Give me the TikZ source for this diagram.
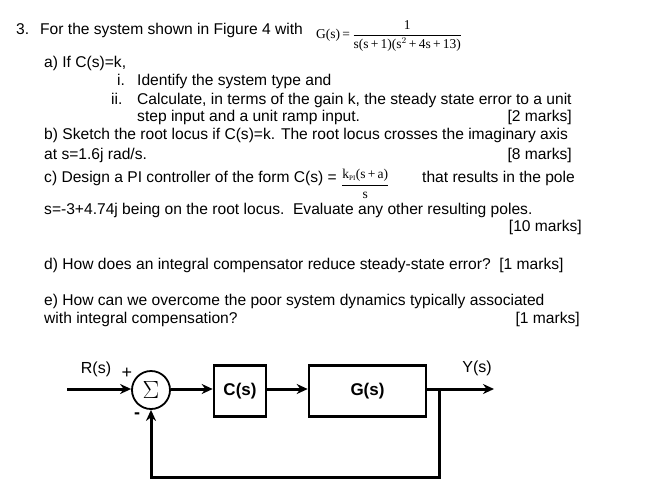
\documentclass[tikz,border=0pt]{standalone}
\usepackage{fontspec}
\setmainfont{Liberation Sans}
\newfontfamily\tms{Liberation Serif}
\usetikzlibrary{arrows.meta}
\begin{document}
\begin{tikzpicture}[x=1pt,y=-1pt,
  txt/.style={anchor=base west,inner sep=0pt,font=\fontsize{15.6}{17}\selectfont},
  rtxt/.style={anchor=base east,inner sep=0pt,font=\fontsize{15.6}{17}\selectfont},
  blk/.style={draw,line width=2.6pt,inner sep=0pt,font=\bfseries\fontsize{17}{18}\selectfont},
  wire/.style={line width=3pt},
  arr/.style={wire,-{Stealth[length=11pt,width=10pt]}},
  lab/.style={inner sep=0pt,font=\fontsize{16}{17}\selectfont}]
\useasboundingbox (0,0) rectangle (661,488);
\node[txt] (n3) at (16,34) {3.};
\node[txt] (l0) at (40,34) {For the system shown in Figure 4 with};
\node[anchor=west,inner sep=0pt,font=\tms\fontsize{13.5}{14}\selectfont] (gs) at (316,36) {G(s)\,=\,$\displaystyle\frac{\hbox{\tms 1}}{\hbox{\tms s(s\,+\,1)(s$^{2}$\,+\,4s\,+\,13)}}$};
\node[txt] (la) at (44,67) {a) If C(s)=k,};
\node[txt] at (117,85) {i.};
\node[txt] at (137,85) {Identify the system type and};
\node[txt] at (111,104) {ii.};
\node[txt] at (137,104) {Calculate, in terms of the gain k, the steady state error to a unit};
\node[txt] at (137,121) {step input and a unit ramp input.};
\node[rtxt] at (572,121) {[2 marks]};
\node[txt] at (44,139) {b) Sketch the root locus if C(s)=k. The root locus crosses the imaginary axis};
\node[txt] at (44,159) {at s=1.6j rad/s.};
\node[rtxt] at (572,159) {[8 marks]};
\node[txt] (lc) at (44,182) {c) Design a PI controller of the form C(s) =};
\node[anchor=west,inner sep=0pt,font=\tms\fontsize{13.5}{14}\selectfont] (pi) at (341,184) {$\displaystyle\frac{\hbox{\tms k$_{\hbox{\tms\fontsize{7}{7}\selectfont PI}}$(s\,+\,a)}}{\hbox{\tms s}}$};
\node[txt] at (422,182) {that results in the pole};
\node[txt] at (44,214) {s=-3+4.74j being on the root locus.\ \ Evaluate any other resulting poles.};
\node[rtxt] at (582,231) {[10 marks]};
\node[txt] at (44,269) {d) How does an integral compensator reduce steady-state error?\ \ [1 marks]};
\node[txt] at (44,305) {e) How can we overcome the poor system dynamics typically associated};
\node[txt] at (44,323) {with integral compensation?};
\node[rtxt] at (580,323) {[1 marks]};
% diagram
\node[draw,circle,line width=1.8pt,minimum size=38pt,inner sep=0pt,font=\tms\fontsize{24}{24}\selectfont] (sum) at (151,390) {$\Sigma$};
\node[blk,minimum width=52pt,minimum height=51pt] (C) at (240,391) {C(s)};
\node[blk,minimum width=117pt,minimum height=51pt] (G) at (367.5,391) {G(s)};
\coordinate (in) at (67,389);
\coordinate (br) at (439,389);
\coordinate (out) at (494,389);
\coordinate (fb1) at (439,477);
\coordinate (fb2) at (151,477);
\draw[arr] (in) -- (sum.west |- in);
\draw[arr] (sum.east |- in) -- (C.west |- in);
\draw[arr] (C.east |- in) -- (G.west |- in);
\draw[arr] (G.east |- in) -- (out);
\draw[arr] (br) -- (fb1) -- (fb2) -- (sum.south);
\node[lab] (R) at (96,369) {R(s)};
\node[lab,font=\fontsize{18}{18}\selectfont] at (127,373) {+};
\node[lab,font=\bfseries\fontsize{18}{18}\selectfont] at (137,416) {-};
\node[lab] (Y) at (477,368) {Y(s)};
\end{tikzpicture}
\end{document}
